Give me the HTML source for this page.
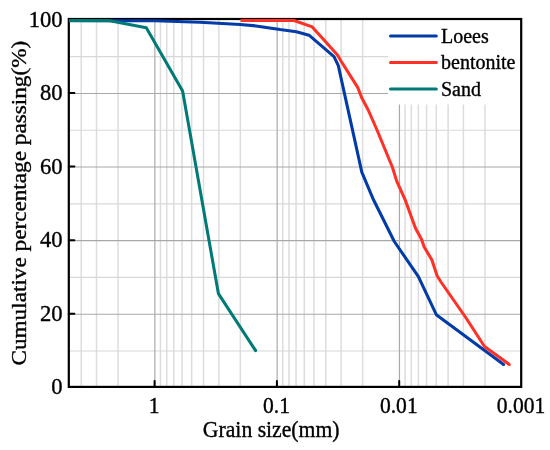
<!DOCTYPE html>
<html><head><meta charset="utf-8"><title>Grain size distribution</title>
<style>html,body{margin:0;padding:0;background:#fff;}body{width:550px;height:450px;overflow:hidden;}svg{display:block;}</style>
</head><body>
<svg width="550" height="450" viewBox="0 0 550 450" font-family="'Liberation Serif', 'Times New Roman', serif"><style>text{fill:#000;stroke:#000;stroke-width:0.35px;paint-order:stroke;}</style><rect x="0" y="0" width="550" height="450" fill="#fff"/><line x1="118.03" y1="19.4" x2="118.03" y2="387.3" stroke="#dddddd" stroke-width="1.5"/><line x1="96.50" y1="19.4" x2="96.50" y2="387.3" stroke="#dddddd" stroke-width="1.5"/><line x1="81.22" y1="19.4" x2="81.22" y2="387.3" stroke="#dddddd" stroke-width="1.5"/><line x1="240.33" y1="19.4" x2="240.33" y2="387.3" stroke="#dddddd" stroke-width="1.5"/><line x1="218.80" y1="19.4" x2="218.80" y2="387.3" stroke="#dddddd" stroke-width="1.5"/><line x1="203.52" y1="19.4" x2="203.52" y2="387.3" stroke="#dddddd" stroke-width="1.5"/><line x1="191.67" y1="19.4" x2="191.67" y2="387.3" stroke="#dddddd" stroke-width="1.5"/><line x1="181.98" y1="19.4" x2="181.98" y2="387.3" stroke="#dddddd" stroke-width="1.5"/><line x1="173.79" y1="19.4" x2="173.79" y2="387.3" stroke="#dddddd" stroke-width="1.5"/><line x1="166.70" y1="19.4" x2="166.70" y2="387.3" stroke="#dddddd" stroke-width="1.5"/><line x1="160.45" y1="19.4" x2="160.45" y2="387.3" stroke="#dddddd" stroke-width="1.5"/><line x1="362.63" y1="19.4" x2="362.63" y2="387.3" stroke="#dddddd" stroke-width="1.5"/><line x1="341.10" y1="19.4" x2="341.10" y2="387.3" stroke="#dddddd" stroke-width="1.5"/><line x1="325.82" y1="19.4" x2="325.82" y2="387.3" stroke="#dddddd" stroke-width="1.5"/><line x1="313.97" y1="19.4" x2="313.97" y2="387.3" stroke="#dddddd" stroke-width="1.5"/><line x1="304.28" y1="19.4" x2="304.28" y2="387.3" stroke="#dddddd" stroke-width="1.5"/><line x1="296.09" y1="19.4" x2="296.09" y2="387.3" stroke="#dddddd" stroke-width="1.5"/><line x1="289.00" y1="19.4" x2="289.00" y2="387.3" stroke="#dddddd" stroke-width="1.5"/><line x1="282.75" y1="19.4" x2="282.75" y2="387.3" stroke="#dddddd" stroke-width="1.5"/><line x1="484.93" y1="19.4" x2="484.93" y2="387.3" stroke="#dddddd" stroke-width="1.5"/><line x1="463.40" y1="19.4" x2="463.40" y2="387.3" stroke="#dddddd" stroke-width="1.5"/><line x1="448.12" y1="19.4" x2="448.12" y2="387.3" stroke="#dddddd" stroke-width="1.5"/><line x1="436.27" y1="19.4" x2="436.27" y2="387.3" stroke="#dddddd" stroke-width="1.5"/><line x1="426.58" y1="19.4" x2="426.58" y2="387.3" stroke="#dddddd" stroke-width="1.5"/><line x1="418.39" y1="19.4" x2="418.39" y2="387.3" stroke="#dddddd" stroke-width="1.5"/><line x1="411.30" y1="19.4" x2="411.30" y2="387.3" stroke="#dddddd" stroke-width="1.5"/><line x1="405.05" y1="19.4" x2="405.05" y2="387.3" stroke="#dddddd" stroke-width="1.5"/><line x1="69.0" y1="351.01" x2="521.0" y2="351.01" stroke="#d8d8d8" stroke-width="1.2"/><line x1="69.0" y1="277.43" x2="521.0" y2="277.43" stroke="#d8d8d8" stroke-width="1.2"/><line x1="69.0" y1="203.85" x2="521.0" y2="203.85" stroke="#d8d8d8" stroke-width="1.2"/><line x1="69.0" y1="130.27" x2="521.0" y2="130.27" stroke="#d8d8d8" stroke-width="1.2"/><line x1="69.0" y1="56.69" x2="521.0" y2="56.69" stroke="#d8d8d8" stroke-width="1.2"/><line x1="154.85" y1="19.4" x2="154.85" y2="387.3" stroke="#aaaaaa" stroke-width="1.2"/><line x1="277.15" y1="19.4" x2="277.15" y2="387.3" stroke="#aaaaaa" stroke-width="1.2"/><line x1="399.45" y1="19.4" x2="399.45" y2="387.3" stroke="#aaaaaa" stroke-width="1.2"/><line x1="69.0" y1="314.22" x2="521.0" y2="314.22" stroke="#a8a8a8" stroke-width="1.1"/><line x1="69.0" y1="240.64" x2="521.0" y2="240.64" stroke="#a8a8a8" stroke-width="1.1"/><line x1="69.0" y1="167.06" x2="521.0" y2="167.06" stroke="#a8a8a8" stroke-width="1.1"/><line x1="69.0" y1="93.48" x2="521.0" y2="93.48" stroke="#a8a8a8" stroke-width="1.1"/><rect x="388" y="20" width="132" height="84.5" fill="#fff"/><rect x="68.8" y="19.0" width="452.40000000000003" height="367.9" fill="none" stroke="#000" stroke-width="2.2"/><line x1="68.8" y1="313.72" x2="74.40" y2="313.72" stroke="#000" stroke-width="2" stroke-linecap="round"/><line x1="68.8" y1="240.14" x2="74.40" y2="240.14" stroke="#000" stroke-width="2" stroke-linecap="round"/><line x1="68.8" y1="166.56" x2="74.40" y2="166.56" stroke="#000" stroke-width="2" stroke-linecap="round"/><line x1="68.8" y1="92.98" x2="74.40" y2="92.98" stroke="#000" stroke-width="2" stroke-linecap="round"/><line x1="154.60" y1="386.9" x2="154.60" y2="381.10" stroke="#000" stroke-width="2" stroke-linecap="round"/><line x1="276.90" y1="386.9" x2="276.90" y2="381.10" stroke="#000" stroke-width="2" stroke-linecap="round"/><line x1="399.20" y1="386.9" x2="399.20" y2="381.10" stroke="#000" stroke-width="2" stroke-linecap="round"/><polyline points="69,20.6 120,20.75 155,20.8 200,22.2 240,24.6 256,25.9 280,29.6 296.4,31.7 309,35.2 334,56.7 338.3,65.6 361.8,172.2 373.5,199.8 394.3,241.5 418.4,276.6 436.3,314.7 503.6,364.4" fill="none" stroke="#003ba8" stroke-width="3.05" stroke-linejoin="round" stroke-linecap="butt"/><circle cx="503.6" cy="364.4" r="1.525" fill="#003ba8"/><polyline points="240.6,20.4 294,20.5 312.2,26.9 324,40 337.5,55 341,61 357.8,87.6 361.6,97.5 368.2,110 376.8,129.5 392.5,167.5 396.7,181.1 405.3,200.2 412.3,219.5 415.5,228.3 421.4,239 424.2,247 431.8,259.8 437.2,276 441,282 465.4,317 484.5,346.5 509.3,364.4" fill="none" stroke="#ff3126" stroke-width="3.05" stroke-linejoin="round" stroke-linecap="butt"/><circle cx="509.3" cy="364.4" r="1.525" fill="#ff3126"/><polyline points="69,20.6 108.5,20.6 146.3,27.8 182.6,91 218.4,293.6 255.6,350.6" fill="none" stroke="#007a76" stroke-width="3.05" stroke-linejoin="round" stroke-linecap="butt"/><circle cx="255.6" cy="350.6" r="1.525" fill="#007a76"/><line x1="390.5" y1="36.1" x2="436.3" y2="36.1" stroke="#003ba8" stroke-width="3" stroke-linecap="round"/><text x="441" y="43.0" font-size="20">Loees</text><line x1="390.5" y1="62.5" x2="436.3" y2="62.5" stroke="#ff3126" stroke-width="3" stroke-linecap="round"/><text x="441" y="69.4" font-size="20">bentonite</text><line x1="390.5" y1="89.1" x2="436.3" y2="89.1" stroke="#007a76" stroke-width="3" stroke-linecap="round"/><text x="441" y="96.0" font-size="20">Sand</text><text transform="translate(62.60,394.40) scale(1,1.05)" font-size="22.6" text-anchor="end">0</text><text transform="translate(62.60,320.82) scale(1,1.05)" font-size="22.6" text-anchor="end">20</text><text transform="translate(62.60,247.24) scale(1,1.05)" font-size="22.6" text-anchor="end">40</text><text transform="translate(62.60,173.66) scale(1,1.05)" font-size="22.6" text-anchor="end">60</text><text transform="translate(62.60,100.08) scale(1,1.05)" font-size="22.6" text-anchor="end">80</text><text transform="translate(62.60,26.50) scale(1,1.05)" font-size="22.6" text-anchor="end">100</text><text transform="translate(154.20,412.80) scale(1,1.07)" font-size="21.6" text-anchor="middle">1</text><text transform="translate(276.50,412.80) scale(1,1.07)" font-size="21.6" text-anchor="middle">0.1</text><text transform="translate(398.80,412.80) scale(1,1.07)" font-size="21.6" text-anchor="middle">0.01</text><text transform="translate(521.10,412.80) scale(1,1.07)" font-size="21.6" text-anchor="middle">0.001</text><text transform="translate(271.20,436.80) scale(1,1.05)" font-size="21.7" text-anchor="middle">Grain size(mm)</text><text transform="translate(26.30,203.15) rotate(-90) scale(1.09,1)" font-size="21.3" text-anchor="middle">Cumulative percentage passing(%)</text></svg>
</body></html>
